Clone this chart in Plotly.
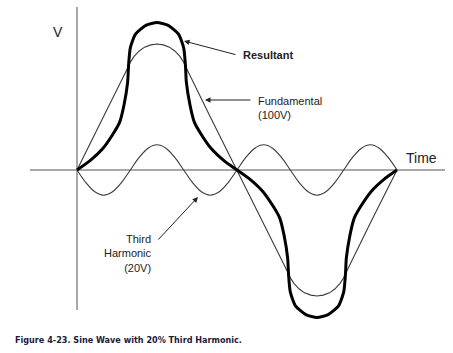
import plotly.graph_objects as go

# Angle in degrees, voltage in volts
fund_deg = [0, 30, 57, 60, 64, 70, 76, 83, 90, 97, 104, 110, 116, 120, 123, 150, 180,
            210, 237, 240, 244, 250, 256, 263, 270, 277, 284, 290, 296, 300, 303, 330, 360]
fund_v = [0, 42, 81, 85.5, 90, 94.5, 97.5, 99.3, 100, 99.3, 97.5, 94.5, 90, 85.5, 81, 42, 0,
          -42, -81, -85.5, -90, -94.5, -97.5, -99.3, -100, -99.3, -97.5, -94.5, -90, -85.5, -81, -42, 0]

res_deg = [0, 14, 29, 40, 48, 53, 57, 58, 60, 66, 78, 90, 102, 114, 120, 122, 123, 127, 132, 140, 151, 166, 180,
           194, 209, 220, 228, 233, 237, 238, 240, 246, 258, 270, 282, 294, 300, 302, 303, 307, 312, 320, 331, 346, 360]
res_v = [0, 7, 17, 28, 38, 52, 70, 83, 97, 108, 115, 117, 115, 108, 97, 83, 70, 52, 38, 28, 17, 7, 0,
         -7, -17, -28, -38, -52, -70, -83, -97, -108, -115, -117, -115, -108, -97, -83, -70, -52, -38, -28, -17, -7, 0]

harm_deg = [0, 10, 20, 30, 40, 50, 60, 70, 80, 90, 100, 110, 120, 130, 140, 150, 160, 170, 180,
            190, 200, 210, 220, 230, 240, 250, 260, 270, 280, 290, 300, 310, 320, 330, 340, 350, 360]
harm_v = [0, -10, -17.3, -20, -17.3, -10, 0, 10, 17.3, 20, 17.3, 10, 0, -10, -17.3, -20, -17.3, -10, 0,
          10, 17.3, 20, 17.3, 10, 0, -10, -17.3, -20, -17.3, -10, 0, 10, 17.3, 20, 17.3, 10, 0]

W, H = 453, 353
X0, Y0 = 77, 170          # pixel position of origin
PX_DEG = 320 / 360        # pixels per degree
PX_V = 126 / 100          # pixels per volt


def P(px, py):
    return px / W, 1 - py / H


fig = go.Figure()
fig.add_trace(go.Scatter(x=harm_deg, y=harm_v, mode="lines", line=dict(color="#3a3a3a", width=1.1, shape="spline", smoothing=1.0), hoverinfo="skip"))
fig.add_trace(go.Scatter(x=fund_deg, y=fund_v, mode="lines", line=dict(color="#3a3a3a", width=1.1), hoverinfo="skip"))
fig.add_trace(go.Scatter(x=res_deg, y=res_v, mode="lines", line=dict(color="#000000", width=3, shape="spline", smoothing=0.6), hoverinfo="skip"))

# axes lines
axcol = "#8c8c8c"
x_a, y_a = P(30, Y0)
x_b, _ = P(445, Y0)
fig.add_shape(type="line", xref="paper", yref="paper", x0=x_a, x1=x_b, y0=y_a, y1=y_a, line=dict(color=axcol, width=1.5), layer="below")
vx, vy0 = P(X0, 7)
_, vy1 = P(X0, 310)
fig.add_shape(type="line", xref="paper", yref="paper", x0=vx, x1=vx, y0=vy0, y1=vy1, line=dict(color=axcol, width=1.5), layer="below")

ann = []
lab = dict(family="Liberation Sans, Arial, sans-serif", color="#222222")


def text(px, py, t, size, xanchor="left", bold=False, align="left", color="#222222", family=None):
    x, y = P(px, py)
    f = dict(lab, size=size, color=color)
    if family:
        f["family"] = family
    ann.append(dict(x=x, y=y, xref="paper", yref="paper", text=("<b>%s</b>" % t) if bold else t,
                    showarrow=False, xanchor=xanchor, yanchor="middle", align=align, font=f))


def arrow(hx, hy, tx, ty):
    x, y = P(hx, hy)
    ann.append(dict(x=x, y=y, xref="paper", yref="paper", ax=tx - hx, ay=ty - hy, axref="pixel", ayref="pixel",
                    text="", showarrow=True, arrowhead=2, arrowsize=1.1, arrowwidth=1, arrowcolor="#222222"))


text(51, 32, "V", 14)
text(404, 158, "Time", 14)
text(241, 55, "Resultant", 11, bold=True)
text(256, 108, "Fundamental<br>(100V)", 11)
text(154, 253, "Third<br>Harmonic<br>(20V)", 11, xanchor="right", align="right")
text(13, 340, "Figure 4-23. Sine Wave with 20% Third Harmonic.", 9, bold=True, color="#1b1b3a",
     family="DejaVu Sans Condensed, Liberation Sans Narrow, sans-serif")

arrow(184, 41, 237, 55)
arrow(205, 100, 252, 100)
arrow(198, 197, 157, 241)

xr = [-X0 / PX_DEG, (W - X0) / PX_DEG]
yr = [-(H - Y0) / PX_V, Y0 / PX_V]
fig.update_layout(
    width=W, height=H, margin=dict(l=0, r=0, t=0, b=0),
    paper_bgcolor="white", plot_bgcolor="white", showlegend=False,
    xaxis=dict(range=xr, visible=False, fixedrange=True),
    yaxis=dict(range=yr, visible=False, fixedrange=True),
    annotations=ann,
)
fig.write_html("out.html", config={"displayModeBar": False})
